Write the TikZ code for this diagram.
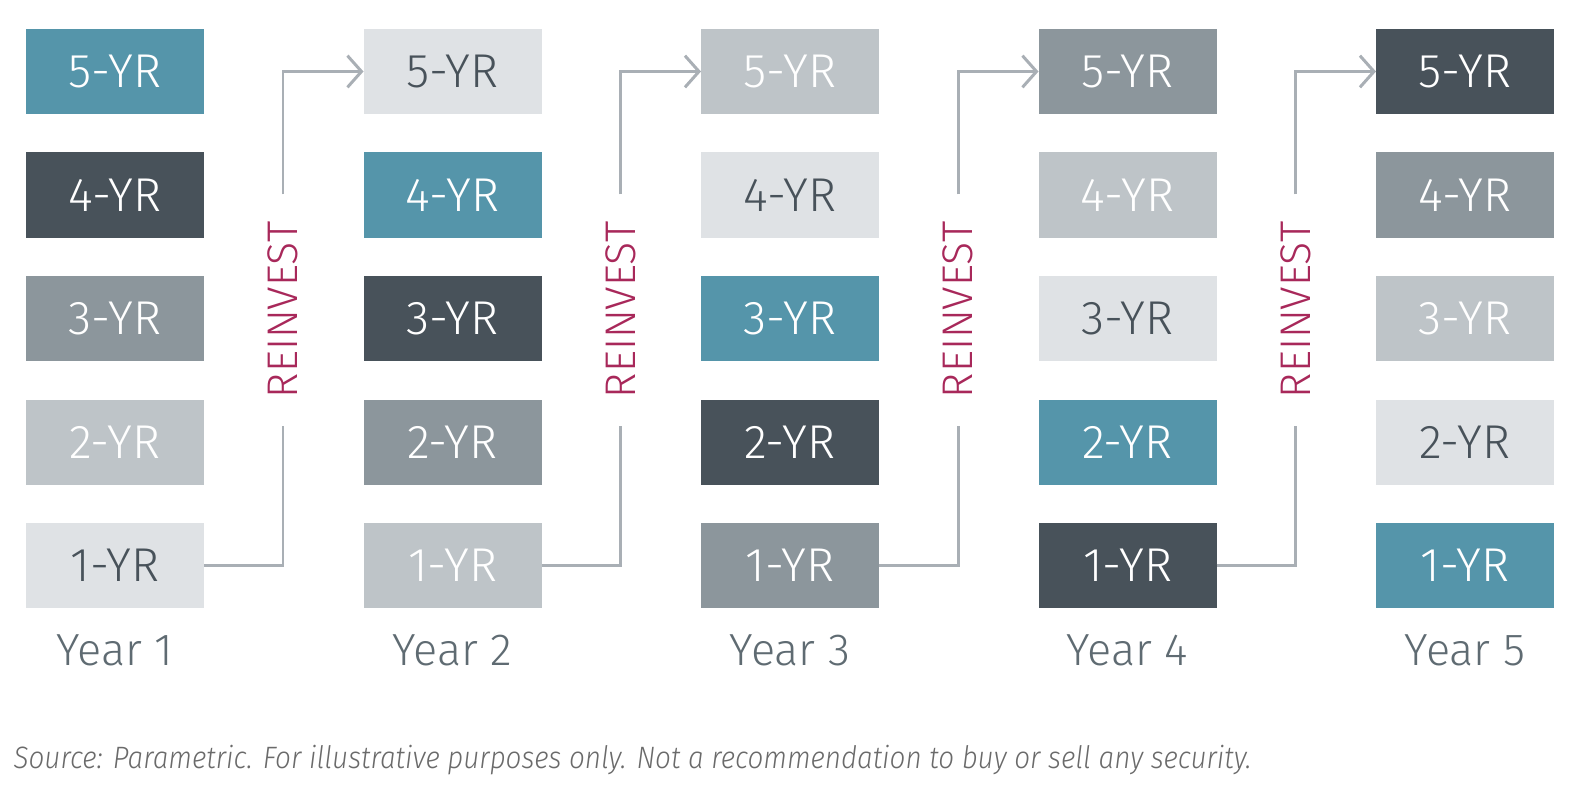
\documentclass[tikz,border=0pt]{standalone}
\usepackage{fontspec}
\setmainfont{Fira Sans}[UprightFont=* Light, ItalicFont=* Light Italic]
\usetikzlibrary{positioning}
\usetikzlibrary{arrows.meta}
\definecolor{rung_teal}{HTML}{5595AA}
\definecolor{rung_dark}{HTML}{48525A}
\definecolor{rung_mid}{HTML}{8C969C}
\definecolor{rung_light}{HTML}{BEC4C8}
\definecolor{rung_pale}{HTML}{DFE2E5}
\definecolor{link_gray}{HTML}{A9AFB5}
\definecolor{reinvest_red}{HTML}{A8285A}
\definecolor{year_gray}{HTML}{5F6B72}
\definecolor{note_gray}{HTML}{6A6A6A}
\tikzset{
        rung/.style={rectangle, inner sep=0pt, outer sep=0pt, minimum width=1.78cm, minimum height=0.85cm, font=\fontsize{13.5}{13.5}\selectfont},
        % Newly bought rung
        rung_teal/.style={rung, fill=rung_teal, text=white},
        % One year older
        rung_dark/.style={rung, fill=rung_dark, text=white},
        % Two years older
        rung_mid/.style={rung, fill=rung_mid, text=white},
        % Three years older
        rung_light/.style={rung, fill=rung_light, text=white},
        % Maturing rung
        rung_pale/.style={rung, fill=rung_pale, text=rung_dark},
        % Year captions
        year_label/.style={inner sep=0pt, text=year_gray, font=\fontsize{12.8}{12.8}\selectfont},
        % Reinvest labels
        reinvest/.style={rotate=90, inner sep=0pt, minimum width=2.30cm, fill=white, text=reinvest_red, font=\fontsize{12.2}{12.2}\selectfont},
        % Connectors
        link/.style={draw=link_gray, line width=0.85pt, >={Straight Barb[length=4pt,width=9pt]}}
}
\begin{document}
\begin{tikzpicture}[node distance=0.385cm]
    \useasboundingbox (0,0) rectangle (15.88,-7.94);
    % Year 1
    \node[rung_teal]  (y1r5) at (1.15,-0.715) {5-YR};
    \node[rung_dark]  (y1r4) [below=of y1r5] {4-YR};
    \node[rung_mid]   (y1r3) [below=of y1r4] {3-YR};
    \node[rung_light] (y1r2) [below=of y1r3] {2-YR};
    \node[rung_pale]  (y1r1) [below=of y1r2] {1-YR};
    % Year 2
    \node[rung_pale]  (y2r5) at (4.525,-0.715) {5-YR};
    \node[rung_teal]  (y2r4) [below=of y2r5] {4-YR};
    \node[rung_dark]  (y2r3) [below=of y2r4] {3-YR};
    \node[rung_mid]   (y2r2) [below=of y2r3] {2-YR};
    \node[rung_light] (y2r1) [below=of y2r2] {1-YR};
    % Year 3
    \node[rung_light] (y3r5) at (7.90,-0.715) {5-YR};
    \node[rung_pale]  (y3r4) [below=of y3r5] {4-YR};
    \node[rung_teal]  (y3r3) [below=of y3r4] {3-YR};
    \node[rung_dark]  (y3r2) [below=of y3r3] {2-YR};
    \node[rung_mid]   (y3r1) [below=of y3r2] {1-YR};
    % Year 4
    \node[rung_mid]   (y4r5) at (11.275,-0.715) {5-YR};
    \node[rung_light] (y4r4) [below=of y4r5] {4-YR};
    \node[rung_pale]  (y4r3) [below=of y4r4] {3-YR};
    \node[rung_teal]  (y4r2) [below=of y4r3] {2-YR};
    \node[rung_dark]  (y4r1) [below=of y4r2] {1-YR};
    % Year 5
    \node[rung_dark]  (y5r5) at (14.65,-0.715) {5-YR};
    \node[rung_mid]   (y5r4) [below=of y5r5] {4-YR};
    \node[rung_light] (y5r3) [below=of y5r4] {3-YR};
    \node[rung_pale]  (y5r2) [below=of y5r3] {2-YR};
    \node[rung_teal]  (y5r1) [below=of y5r2] {1-YR};

    \node[year_label] (lab1) at (1.15,-6.50) {Year 1};
    \node[year_label] (lab2) at (4.525,-6.50) {Year 2};
    \node[year_label] (lab3) at (7.90,-6.50) {Year 3};
    \node[year_label] (lab4) at (11.275,-6.50) {Year 4};
    \node[year_label] (lab5) at (14.65,-6.50) {Year 5};

    \node[reinvest] (re1) at (2.83,-3.10) {REINVEST};
    \node[reinvest] (re2) at (6.205,-3.10) {REINVEST};
    \node[reinvest] (re3) at (9.58,-3.10) {REINVEST};
    \node[reinvest] (re4) at (12.955,-3.10) {REINVEST};

    \draw[link] (y1r1.east) -| (re1.west);
    \draw[link, ->] (re1.east) |- (y2r5.west);
    \draw[link] (y2r1.east) -| (re2.west);
    \draw[link, ->] (re2.east) |- (y3r5.west);
    \draw[link] (y3r1.east) -| (re3.west);
    \draw[link, ->] (re3.east) |- (y4r5.west);
    \draw[link] (y4r1.east) -| (re4.west);
    \draw[link, ->] (re4.east) |- (y5r5.west);

    \node[anchor=base west, inner sep=0pt, text=note_gray, font=\fontsize{8.8}{8.8}\selectfont\itshape] (note) at (0.13,-7.68)
        {\scalebox{0.9}[1]{Source: Parametric. For illustrative purposes only. Not a recommendation to buy or sell any security.}};
\end{tikzpicture}
\end{document}
